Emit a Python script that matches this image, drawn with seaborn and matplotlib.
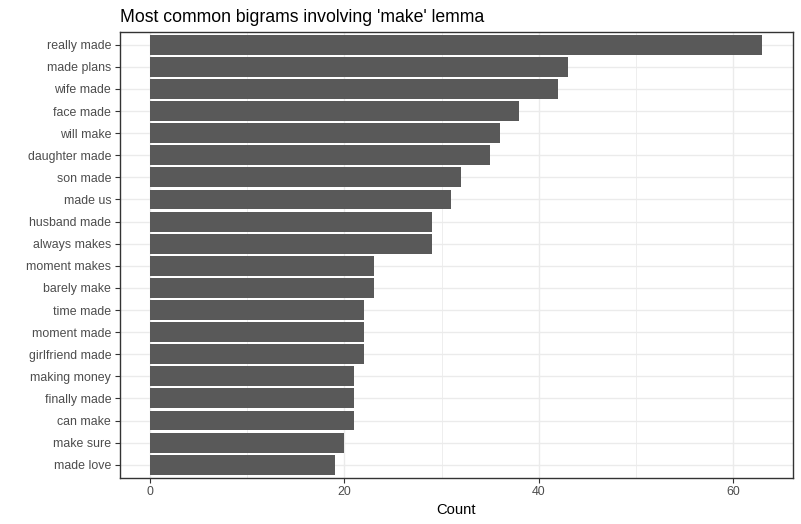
import matplotlib
matplotlib.use("Agg")
import matplotlib.pyplot as plt
import seaborn as sns
import pandas as pd
from matplotlib.ticker import MultipleLocator

bigrams = ["really made", "made plans", "wife made", "face made", "will make",
           "daughter made", "son made", "made us", "husband made", "always makes",
           "moment makes", "barely make", "time made", "moment made", "girlfriend made",
           "making money", "finally made", "can make", "make sure", "made love"]
counts = [63, 43, 42, 38, 36, 35, 32, 31, 29, 29,
          23, 23, 22, 22, 22, 21, 21, 21, 20, 19]

df = pd.DataFrame({"bigram": bigrams, "n": counts})

sns.set_theme(style="white")
plt.rcParams['font.family'] = ['Liberation Sans', 'DejaVu Sans']

fig = plt.figure(figsize=(8.01, 5.24), dpi=100)
W, H = 801, 524
ax = fig.add_axes([119.5 / W, 1 - 478 / H, (793 - 119.5) / W, (478 - 31.5) / H])

sns.barplot(data=df, x="n", y="bigram", orient="h", color="#595959",
            saturation=1, width=0.9, ax=ax, zorder=3, linewidth=0, edgecolor="none")

ax.set_xlim(-3.15, 66.15)
ax.set_ylim(len(bigrams) - 0.4, -0.6)
ax.xaxis.set_major_locator(MultipleLocator(20))
ax.xaxis.set_minor_locator(MultipleLocator(10))
ax.grid(True, which="major", color="#EBEBEB", linewidth=1.0, zorder=0)
ax.grid(True, which="minor", axis="x", color="#EBEBEB", linewidth=0.6, zorder=0)
ax.set_axisbelow(True)

for s in ax.spines.values():
    s.set_visible(True)
    s.set_color("#333333")
    s.set_linewidth(1.0)

ax.tick_params(axis="both", which="major", length=3.5, width=0.8, color="#333333",
               labelsize=8.9, labelcolor="#4D4D4D", pad=2.5, left=True, bottom=True)
ax.tick_params(axis="both", which="minor", length=0)
ax.set_ylabel("")
ax.set_xlabel("Count", fontsize=10.6, color="black", labelpad=3)
ax.set_title("Most common bigrams involving 'make' lemma", fontsize=12.7,
             color="black", loc="left", pad=7)

fig.savefig("out.png", dpi=100, facecolor="white")
